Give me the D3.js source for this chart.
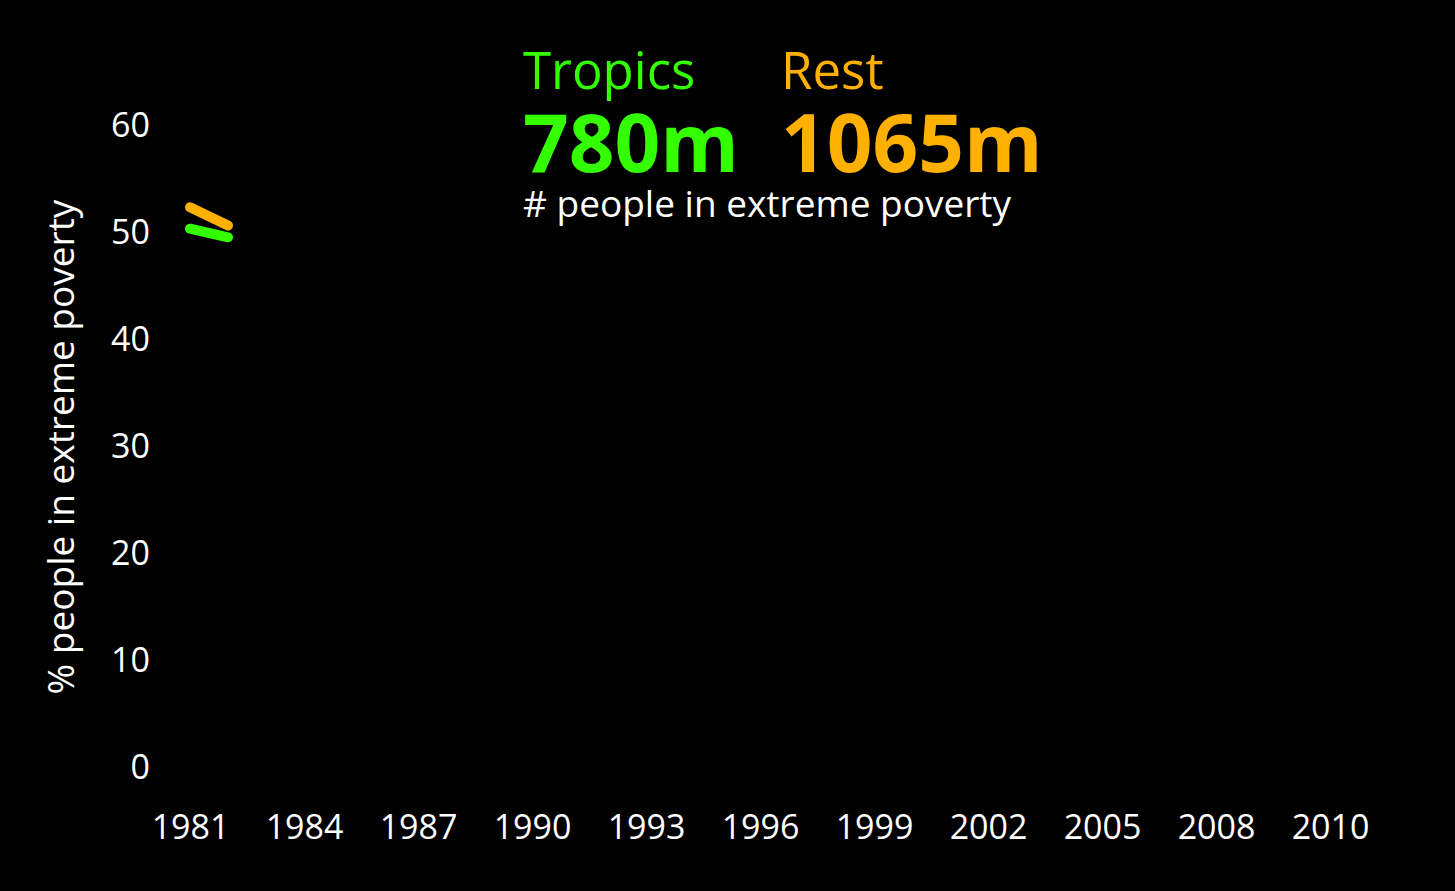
<!DOCTYPE html>
<html>
<head>
<meta charset="utf-8">
<script src="https://cdn.jsdelivr.net/npm/d3@7"></script>
<style>
    html, body { margin: 0; padding: 0; background: #000; }
    #chart { width: 1455px; height: 891px; }
    text { font-family: "Open Sans", sans-serif; }
</style>
</head>
<body>
<div id="chart"></div>
<script>
const tickYears = [1981, 1984, 1987, 1990, 1993, 1996, 1999, 2002, 2005, 2008, 2010]
const yTicks = [0, 10, 20, 30, 40, 50, 60]

// frame shown: only the first stretch of both lines is drawn
const lineYears = [1981, 1982]
const tropicsPct = [50.4, 49.6]
const restPct = [52.4, 50.7]

const seriesNames = ['Tropics', 'Rest']
const peopleCounts = ['780m', '1065m']
const seriesColors = ['#33ff00', '#ffb000']

class PovertyChart {
    width = 1455;
    height = 891;

    constructor() {
        this.prepareData()
        this.draw()
    }

    prepareData() {
        this.lines = [
            { name: seriesNames[0], color: seriesColors[0], values: lineYears.map((yr, i) => ({ year: yr, pct: tropicsPct[i] })) },
            { name: seriesNames[1], color: seriesColors[1], values: lineYears.map((yr, i) => ({ year: yr, pct: restPct[i] })) }
        ]
    }

    draw() {
        d3.select("#chart svg").remove()
        const svg = d3.select("#chart")
            .append("svg")
            .attr("width", this.width)
            .attr("height", this.height)

        svg.append("rect")
            .attr("width", this.width)
            .attr("height", this.height)
            .attr("fill", "#000")

        // tick years are evenly spaced even though 2008 -> 2010 is only two years
        const xLabels = d3.scalePoint()
            .domain(tickYears)
            .range([190, 1330])

        const x = d3.scaleLinear()
            .domain(tickYears)
            .range(tickYears.map(yr => xLabels(yr)))

        const y = d3.scaleLinear()
            .domain([0, 60])
            .range([768, 126])

        const xAxis = svg.append("g")
            .attr("transform", "translate(0, 815)")
            .call(d3.axisBottom(xLabels).tickSize(0).tickPadding(0))
        xAxis.select(".domain").remove()
        xAxis.selectAll("text")
            .attr("fill", "#fff")
            .style("font-size", "34px")

        const yAxis = svg.append("g")
            .attr("transform", "translate(150, 0)")
            .call(d3.axisLeft(y).tickValues(yTicks).tickSize(0).tickPadding(0))
        yAxis.select(".domain").remove()
        yAxis.selectAll("text")
            .attr("fill", "#fff")
            .style("font-size", "34px")

        svg.append("text")
            .attr("text-anchor", "middle")
            .attr("transform", "translate(74, 447) rotate(-90)")
            .attr("fill", "#fff")
            .style("font-size", "37px")
            .text("% people in extreme poverty")

        const line = d3.line()
            .x(d => x(d.year))
            .y(d => y(d.pct))

        svg.selectAll(".series")
            .data(this.lines.slice().reverse())
            .join("path")
            .attr("class", "series")
            .attr("d", d => line(d.values))
            .attr("fill", "none")
            .attr("stroke", d => d.color)
            .attr("stroke-width", 10)
            .attr("stroke-linecap", "round")

        // header block
        const headerX = [523, 781]
        seriesNames.forEach((name, i) => {
            svg.append("text")
                .attr("x", headerX[i])
                .attr("y", 89)
                .attr("fill", seriesColors[i])
                .style("font-size", "51px")
                .text(name)

            svg.append("text")
                .attr("x", headerX[i])
                .attr("y", 172)
                .attr("fill", seriesColors[i])
                .style("font-size", "80px")
                .style("font-weight", "700")
                .text(peopleCounts[i])
        })

        svg.append("text")
            .attr("x", 523)
            .attr("y", 217)
            .attr("fill", "#fff")
            .style("font-size", "37px")
            .text("# people in extreme poverty")
    }
}

new PovertyChart()
</script>
</body>
</html>
